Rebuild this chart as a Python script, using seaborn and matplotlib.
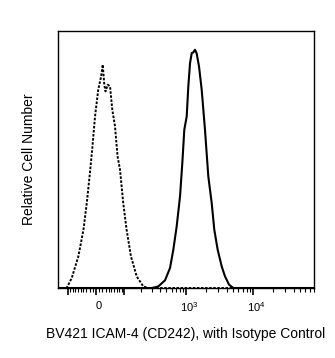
import numpy as np
import pandas as pd
import matplotlib
matplotlib.use("Agg")
import matplotlib.pyplot as plt
import matplotlib.transforms as mtransforms
import seaborn as sns

# ---- data (fluorescence intensity vs relative cell count) ----
isotype_x = [-154, -107, -84, -58, -40, -29, -19, -11, -3, 7, 16, 21, 26, 30, 37, 45,
             53, 63, 73, 83, 97, 113, 136, 171, 220, 264, 80600]
isotype_y = [0, 0, 3.9, 12.3, 22.7, 33.1, 44.7, 55.1, 66.8, 77.2, 82.4, 86.9, 79.1, 76.5,
             79.1, 78.5, 69.4, 62.9, 51.2, 46.0, 33.1, 22.7, 12.3, 4.5, 0.6, 0, 0]

stained_x = [-154, 298, 377, 478, 569, 638, 717, 805, 871, 933, 1014, 1072, 1137, 1205,
             1274, 1350, 1431, 1549, 1698, 1902, 2133, 2396, 2619, 2943, 3380, 3790,
             4350, 5040, 80600]
stained_y = [0, 0, 0.6, 3.0, 7.8, 14.9, 24.0, 35.7, 48.6, 61.6, 66.8, 78.5, 87.5, 91.4,
             91.7, 92.7, 91.2, 86.2, 77.2, 61.6, 43.4, 33.1, 22.7, 14.9, 8.4, 4.5,
             1.3, 0, 0]

major_ticks = [-100, 0, 100, 1000, 10000]
major_labels = ["", "0", "", "$10^3$", "$10^4$"]
minor_ticks = ([-v for v in range(10, 100, 10)] + list(range(10, 100, 10)) +
               list(range(200, 1000, 100)) + list(range(2000, 10000, 1000)) +
               list(range(20000, 90000, 10000)))

x_label = "BV421 ICAM-4 (CD242), with Isotype Control"
y_label = "Relative Cell Number"

# ---- style ----
sns.set_style("ticks")
plt.rcParams["font.family"] = ["Liberation Sans", "DejaVu Sans"]
plt.rcParams["mathtext.fontset"] = "custom"
plt.rcParams["mathtext.rm"] = "Liberation Sans"
plt.rcParams["mathtext.it"] = "Liberation Sans"

fig = plt.figure(figsize=(3.35, 3.58), dpi=100)
ax = fig.add_axes([0.1731, 0.1955, 0.7642, 0.7179])

iso_df = pd.DataFrame({"x": isotype_x, "y": isotype_y})
st_df = pd.DataFrame({"x": stained_x, "y": stained_y})

sns.lineplot(data=iso_df, x="x", y="y", ax=ax, color="black", lw=1.4,
             linestyle=(0, (1.3, 0.8)), estimator=None, sort=False)
sns.lineplot(data=st_df, x="x", y="y", ax=ax, color="black", lw=1.5,
             estimator=None, sort=False)

ax.set_xscale("asinh", linear_width=90)
ax.set_xlim(-154, 80600)
ax.set_ylim(0, 100)

ax.set_xticks(major_ticks)
ax.set_xticklabels(major_labels)
ax.set_xticks(minor_ticks, minor=True)
ax.set_yticks([])
ax.tick_params(axis="x", which="major", length=5, width=1.2, labelsize=8, pad=4,
               color="black", labelcolor="black")
ax.tick_params(axis="x", which="minor", length=3, width=0.8, color="black")

offset = mtransforms.ScaledTranslation(3 / 100, 0, fig.dpi_scale_trans)
for lab in ax.get_xticklabels():
    lab.set_transform(lab.get_transform() + offset)

for s in ax.spines.values():
    s.set_visible(True)
    s.set_linewidth(1.0)
    s.set_color("black")

ax.set_xlabel(x_label, fontsize=10, labelpad=9, color="black")
ax.set_ylabel(y_label, fontsize=10, labelpad=16, color="black")

fig.savefig("out.png", dpi=100, facecolor="white")
